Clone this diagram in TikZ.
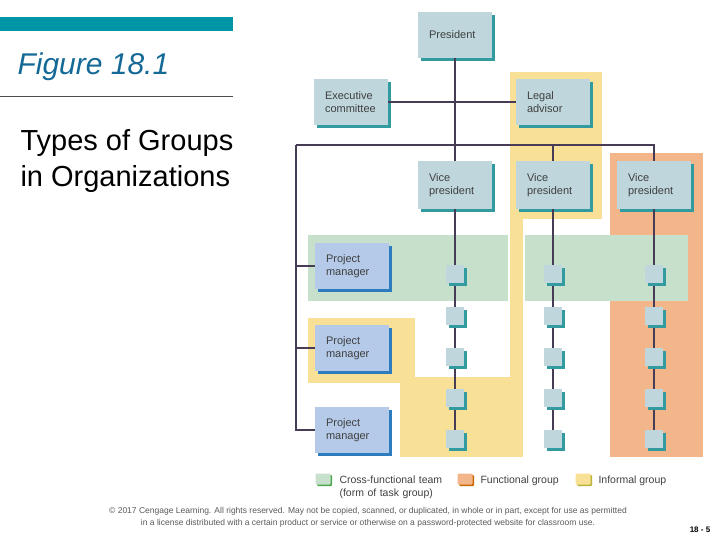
\documentclass[tikz,border=0pt]{standalone}
\usepackage{fontspec}
\setmainfont{Liberation Sans}
\usetikzlibrary{shadows, positioning}
\definecolor{barteal}{RGB}{0,150,165}
\definecolor{titleblue}{RGB}{20,105,150}
\definecolor{boxface}{RGB}{190,214,220}
\definecolor{boxside}{RGB}{50,155,160}
\definecolor{pmface}{RGB}{180,202,232}
\definecolor{pmside}{RGB}{45,125,190}
\definecolor{crossgreen}{RGB}{198,224,204}
\definecolor{funcorange}{RGB}{242,182,138}
\definecolor{infyellow}{RGB}{248,225,150}
\definecolor{linkline}{RGB}{70,60,85}
\tikzset{
    orgbox/.style={rectangle, fill=boxface, minimum width=74pt, minimum height=46pt, text width=52pt, align=left, inner xsep=11pt, font=\fontsize{11}{13}\selectfont, text=black!75, copy shadow={shadow xshift=3pt, shadow yshift=-3pt, fill=boxside, draw=none}},
    pmbox/.style={orgbox, fill=pmface, copy shadow={shadow xshift=3pt, shadow yshift=-3pt, fill=pmside, draw=none}},
    unit/.style={rectangle, fill=boxface, minimum width=18pt, minimum height=18pt, inner sep=0pt, copy shadow={shadow xshift=2.5pt, shadow yshift=-2.5pt, fill=boxside, draw=none}},
    link/.style={draw=linkline, line width=1.2pt},
    swatch/.style={rectangle, minimum width=15pt, minimum height=11pt, inner sep=0pt, rounded corners=1pt},
    legend/.style={font=\fontsize{10.5}{13}\selectfont, text=black!75, align=left, anchor=base west}
}
\begin{document}
\begin{tikzpicture}[x=1pt, y=-1pt]
\useasboundingbox (0,0) rectangle (720,540);

% title block
\fill[barteal] (0,17) rectangle (233,31);
\draw[black!70, line width=0.6pt] (0,96) -- (233,96);
\node[anchor=west, text=titleblue, font=\fontsize{30}{34}\selectfont\itshape] (fig-title) at (14,67) {Figure 18.1};
\node[anchor=north west, align=left, font=\fontsize{29}{36}\selectfont] (fig-sub) at (17,126) {Types of Groups\\in Organizations};

% group areas
\fill[infyellow] (510,72) rectangle (602,219);
\fill[infyellow] (510,219) rectangle (523,377);
\fill[infyellow] (400,377) rectangle (523,457);
\fill[infyellow] (308,318) rectangle (415,383);
\fill[funcorange] (610,153) rectangle (703,457);
\fill[crossgreen] (308,235) rectangle (508,301);
\fill[crossgreen] (525,235) rectangle (688,301);

% boxes
\node[orgbox] (pres) at (455,35) {President};
\node[orgbox] (exec) at (351,102) {Executive\\committee};
\node[orgbox] (legal) at (553,102) {Legal\\advisor};
\node[orgbox, minimum height=48pt] (vp1) at (455,185) {Vice\\president};
\node[orgbox, minimum height=48pt] (vp2) at (553,185) {Vice\\president};
\node[orgbox, minimum height=48pt] (vp3) at (654,185) {Vice\\president};
\node[pmbox] (pm1) at (352,266) {Project\\manager};
\node[pmbox] (pm2) at (352,348) {Project\\manager};
\node[pmbox] (pm3) at (352,430) {Project\\manager};

% connectors
\coordinate (bus-l) at (296,145);
\coordinate (bus-r) at (654,145);
\draw[link] (pres.south) -- (vp1.north);
\draw[link] (exec.east) -- (legal.west);
\draw[link] (bus-l) -- (bus-r) -- (vp3.north);
\draw[link] (vp2.north |- bus-l) -- (vp2.north);
\draw[link] (bus-l) -- (bus-l |- pm3.west) -- (pm3.west);
\draw[link] (bus-l |- pm1.west) -- (pm1.west);
\draw[link] (bus-l |- pm2.west) -- (pm2.west);

% units per vice president
\foreach \v in {1,2,3} {
    \draw[link] (vp\v.south) -- (vp\v.south |- 0,439);
    \foreach \k/\y in {1/274, 2/316, 3/357, 4/398, 5/439}
        \node[unit] (u\v-\k) at (vp\v.south |- 0,\y) {};
}

% legend
\node[swatch, fill=crossgreen, copy shadow={shadow xshift=1.5pt, shadow yshift=-1.5pt, fill=green!50!black!70, draw=none}] (sw-cross) at (323,479) {};
\node[legend, text width=120pt] (lg-cross) at (336,483) {Cross-functional team\\(form of task group)};
\node[swatch, fill=funcorange, copy shadow={shadow xshift=1.5pt, shadow yshift=-1.5pt, fill=orange!80!black, draw=none}] (sw-func) at (465,479) {};
\node[legend] (lg-func) at (477,483) {Functional group};
\node[swatch, fill=infyellow, copy shadow={shadow xshift=1.5pt, shadow yshift=-1.5pt, fill=yellow!70!black, draw=none}] (sw-inf) at (583,479) {};
\node[legend] (lg-inf) at (595,483) {Informal group};

% footer
\node[align=center, text=black!65, font=\fontsize{8.5}{12}\selectfont] (footer) at (368,517) {© 2017 Cengage Learning. All rights reserved. May not be copied, scanned, or duplicated, in whole or in part, except for use as permitted\\in a license distributed with a certain product or service or otherwise on a password-protected website for classroom use.};
\node[font=\fontsize{8}{10}\selectfont\bfseries] (page-no) at (700,530) {18 - 5};
\end{tikzpicture}
\end{document}
